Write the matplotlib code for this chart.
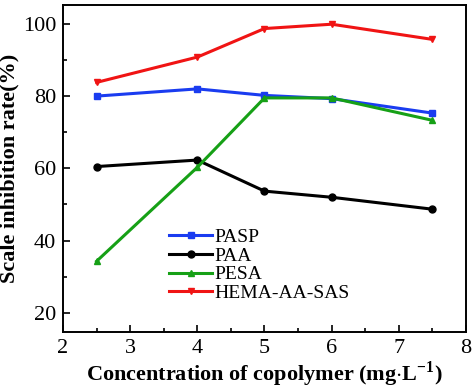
import numpy as np
import matplotlib
matplotlib.use("Agg")
import matplotlib.pyplot as plt

plt.rcParams['font.family'] = ['Liberation Serif', 'DejaVu Serif']
plt.rcParams['mathtext.fontset'] = 'custom'
plt.rcParams['mathtext.rm'] = 'Liberation Serif'
plt.rcParams['mathtext.bf'] = 'Liberation Serif:bold'

# concentration (mg/L)
conc = [2.5, 4, 5, 6, 7.5]
pasp = [80.0, 82.0, 80.2, 79.3, 75.3]
paa = [60.5, 62.3, 53.7, 52.0, 48.7]
pesa = [34.3, 60.3, 79.5, 79.5, 73.3]
hema = [83.8, 90.8, 98.7, 99.9, 95.7]

fig = plt.figure(figsize=(4.74, 3.92), dpi=100)
ax = fig.add_axes([0.133, 0.153, 0.85, 0.835])

ax.plot(conc, pasp, color='#1a3cf0', marker='s', ms=5, lw=2.2, label='PASP')
ax.plot(conc, paa, color='black', marker='o', ms=5, lw=2.2, label='PAA')
ax.plot(conc, pesa, color='#16a016', marker='^', ms=5, lw=2.2, label='PESA')
ax.plot(conc, hema, color='#f01414', marker='v', ms=5, lw=2.2, label='HEMA-AA-SAS')

ax.set_xlim(2, 8)
ax.set_ylim(14.7, 105.3)
ax.set_xticks([2, 3, 4, 5, 6, 7, 8])
ax.set_xticks(np.arange(2.5, 8, 1), minor=True)
ax.set_yticks([20, 40, 60, 80, 100])
ax.set_yticks([30, 50, 70, 90], minor=True)
ax.tick_params(direction='in', labelsize=16, length=5, width=1.2, top=False, right=False, pad=5)
ax.tick_params(which='minor', direction='in', length=3, width=1.2)
for s in ax.spines.values():
    s.set_linewidth(1.4)

ax.set_xlabel('Concentration of copolymer (mg$\\cdot$L$^{\\mathbf{-1}}$)', fontsize=16, fontweight='bold', labelpad=1)
ax.set_ylabel('Scale inhibition rate(%)', fontsize=16, fontweight='bold', labelpad=2)

ax.legend(loc='lower left', bbox_to_anchor=(0.23, 0.05), frameon=False, fontsize=14,
          handlelength=2.2, handletextpad=0.1, labelspacing=0.05, borderpad=0.2)

fig.savefig('out.png', dpi=100)
